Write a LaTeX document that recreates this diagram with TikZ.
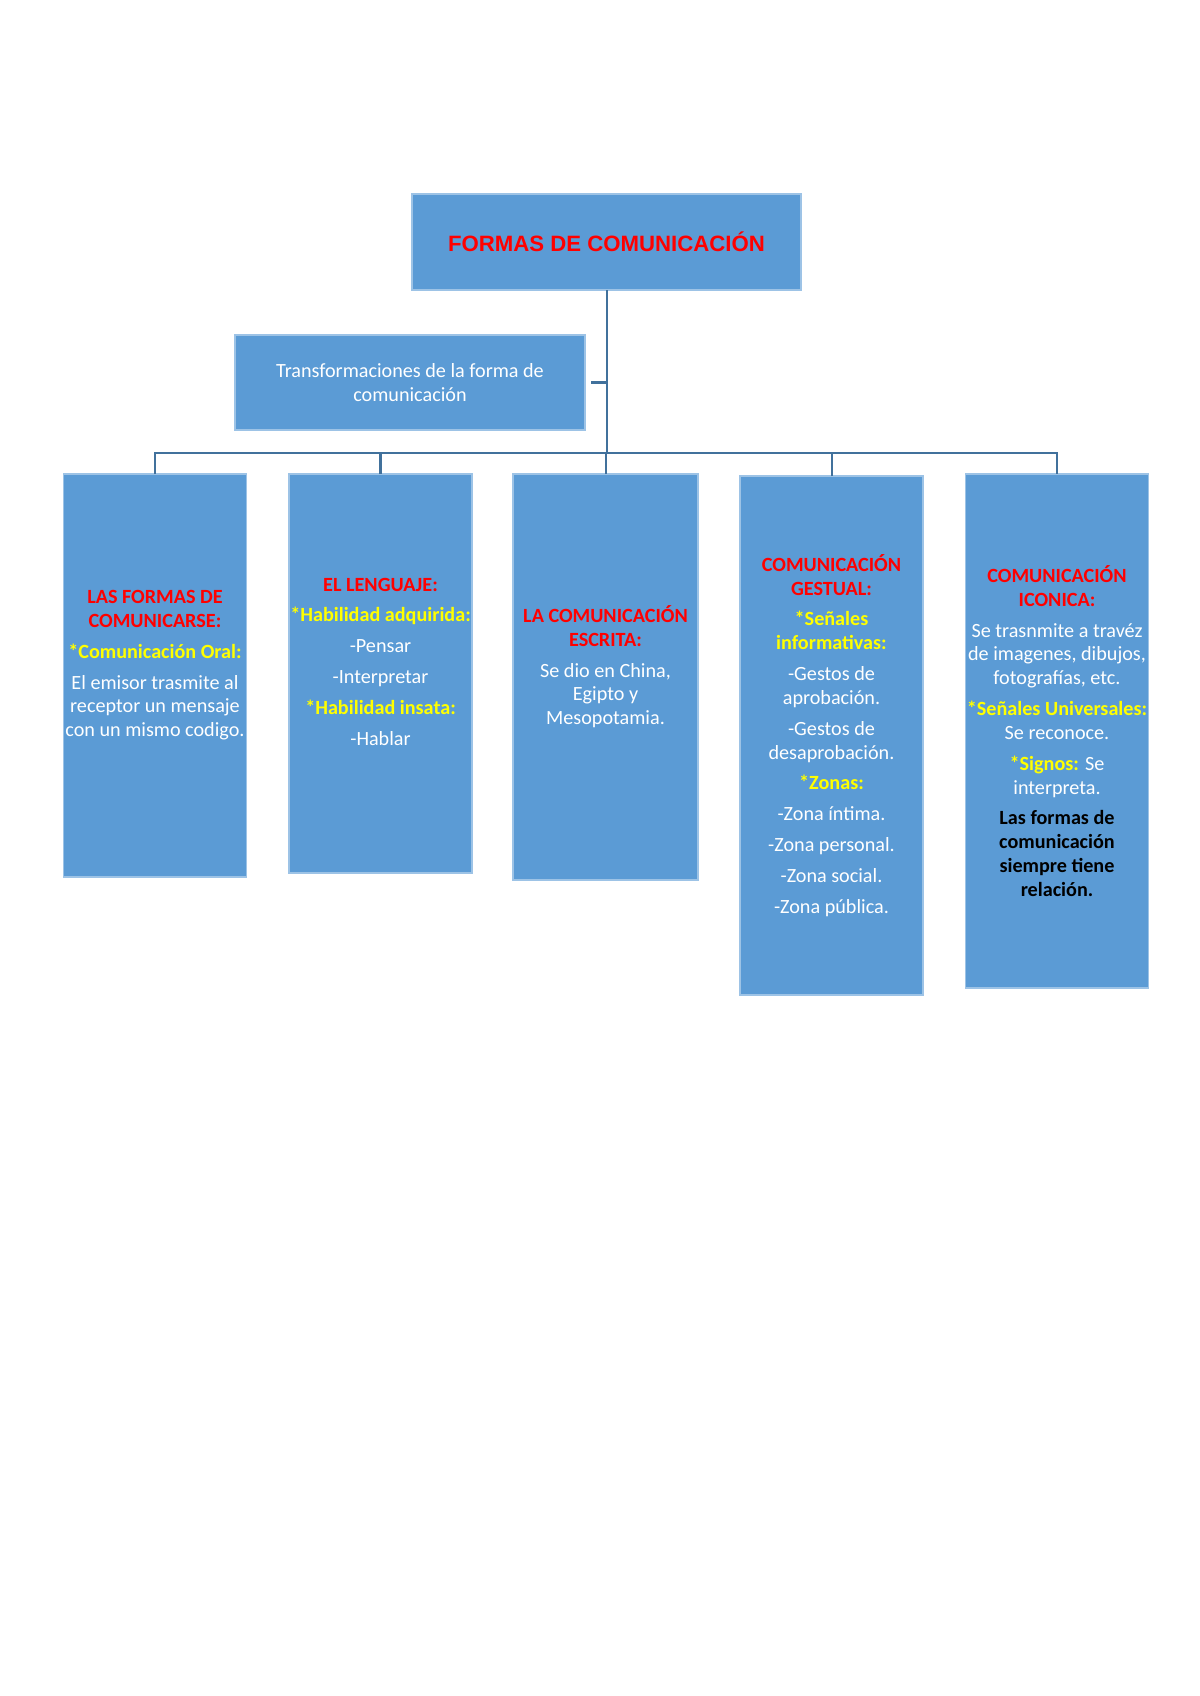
\documentclass[tikz,border=0pt]{standalone}
\usepackage{fontspec}
\setmainfont{Carlito}
\newfontfamily\arialbold{Liberation Sans}
\usetikzlibrary{positioning}
\definecolor{azulcaja}{HTML}{5B9BD5}
\definecolor{azullinea}{HTML}{41719C}
\definecolor{rojo}{HTML}{FF0000}
\definecolor{amarillo}{HTML}{FFFF00}
\newcommand{\encab}[1]{\textcolor{rojo}{\textbf{#1}}}
\newcommand{\resalta}[1]{\textcolor{amarillo}{\textbf{#1}}}

\begin{document}
\begin{tikzpicture}[x=0.4958pt, y=-0.4958pt,
        every node/.style={inner sep=0pt, outer sep=0pt, align=center, font=\fontsize{10}{11.8}\selectfont},
        caja/.style={draw=azulcaja!60!white, line width=0.6pt, fill=azulcaja, text=white, minimum width=91pt},
        titulo/.style={caja, minimum width=192.9pt, minimum height=47.6pt, font=\arialbold\bfseries\fontsize{11}{13}\selectfont, text=rojo},
        conector/.style={draw=azullinea, line width=1pt}
    ]
    \useasboundingbox (0,0) rectangle (1200,1696);

    \node[titulo] (formas) at (606.5,242) {FORMAS DE COMUNICACI\'ON};
    \node[caja, minimum width=173.5pt, minimum height=47.1pt] (transf) at (410,382.5)
        {Transformaciones de la forma de\\comunicación};

    \node[caja, minimum height=199.8pt, anchor=north] (oral) at (155,474)
        {\encab{LAS FORMAS DE}\\\encab{COMUNICARSE:}\\[3.5pt]
         \resalta{*Comunicación Oral:}\\[3.5pt]
         El emisor trasmite al\\receptor un mensaje\\con un mismo codigo.\\\mbox{}};
    \node[caja, minimum width=90.7pt, minimum height=197.8pt, anchor=north] (lenguaje) at (380.5,474)
        {\encab{EL LENGUAJE:}\\[3.5pt]
         \resalta{*Habilidad adquirida:}\\[3.5pt]
         -Pensar\\[3.5pt]-Interpretar\\[3.5pt]
         \resalta{*Habilidad insata:}\\[3.5pt]
         -Hablar\\\mbox{}};
    \node[caja, minimum width=91.7pt, minimum height=201.3pt, anchor=north] (escrita) at (605.5,474)
        {\encab{LA COMUNICACIÓN}\\\encab{ESCRITA:}\\[3.5pt]
         Se dio en China,\\Egipto y\\Mesopotamia.\\\mbox{}};
    \node[caja, minimum width=90.7pt, minimum height=257.3pt, anchor=north] (gestual) at (831.5,476)
        {\encab{COMUNICACIÓN}\\\encab{GESTUAL:}\\[3.5pt]
         \resalta{*Señales}\\\resalta{informativas:}\\[3.5pt]
         -Gestos de\\aprobación.\\[3.5pt]
         -Gestos de\\desaprobación.\\[3.5pt]
         \resalta{*Zonas:}\\[3.5pt]
         -Zona íntima.\\[3.5pt]-Zona personal.\\[3.5pt]
         -Zona social.\\[3.5pt]-Zona pública.};
    \node[caja, minimum height=254.8pt, anchor=north] (iconica) at (1057,474)
        {\encab{COMUNICACIÓN}\\\encab{ICONICA:}\\[3.5pt]
         Se trasnmite a travéz\\de imagenes, dibujos,\\fotografías, etc.\\[3.5pt]
         \resalta{*Señales Universales:}\\Se reconoce.\\[3.5pt]
         \resalta{*Signos:} Se\\interpreta.\\[3.5pt]
         \textcolor{black}{\textbf{Las formas de}}\\\textcolor{black}{\textbf{comunicación}}\\
         \textcolor{black}{\textbf{siempre tiene}}\\\textcolor{black}{\textbf{relación.}}};

    % conectores
    \coordinate (bus) at (607,453);
    \draw[conector] (formas.south) -- (formas.south |- bus);
    \draw[conector] ([xshift=3]transf.east) -- (transf.east -| formas.south);
    \draw[conector] (oral.north) -- (oral.north |- bus) -| (iconica.north);
    \foreach \c in {lenguaje, escrita, gestual}
        \draw[conector] (\c.north) -- (\c.north |- bus);
\end{tikzpicture}
\end{document}
